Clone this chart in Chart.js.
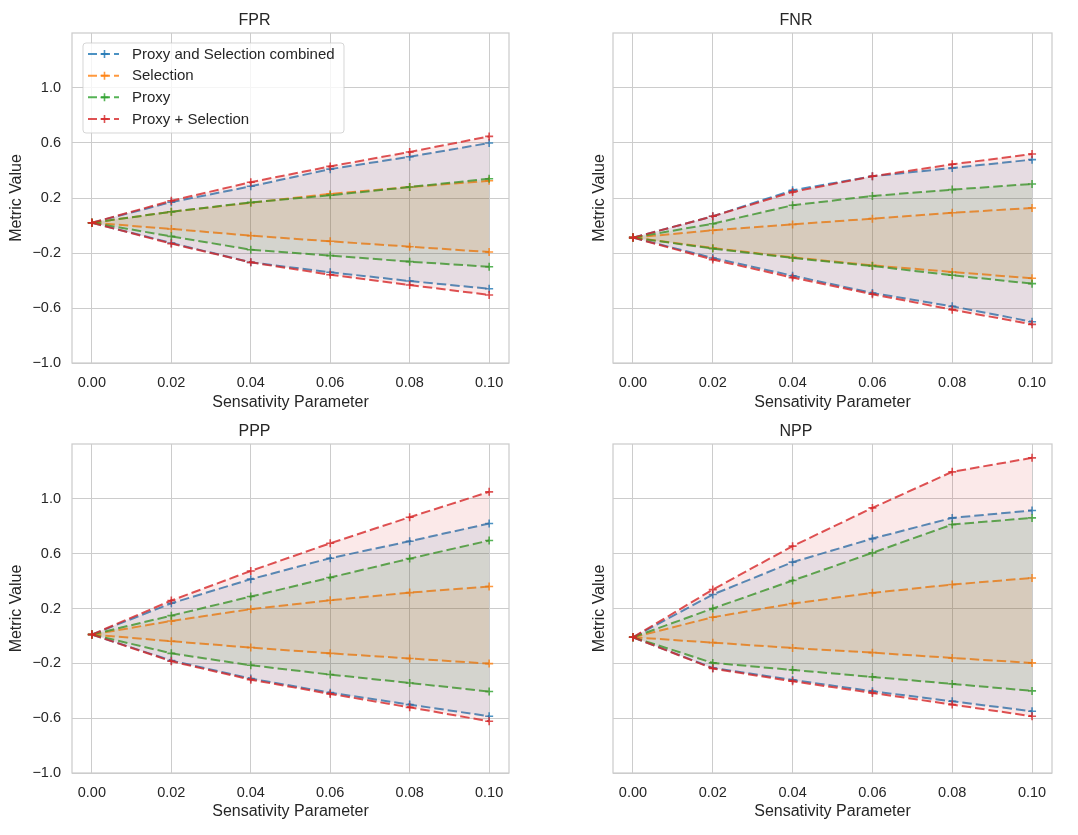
<!DOCTYPE html>
<html>
<head>
<meta charset="utf-8">
<script src="https://cdn.jsdelivr.net/npm/chart.js@4.4.1/dist/chart.umd.min.js"></script>
<style>
  body { margin: 0; background: #ffffff; }
  #fig { position: relative; width: 1078px; height: 835px; overflow: hidden; }
  .panel { position: absolute; }
</style>
</head>
<body>
<div id="fig">
  <div class="panel" style="left:0px;top:0px;width:540px;height:415px"><canvas id="c0"></canvas></div>
  <div class="panel" style="left:540px;top:0px;width:538px;height:415px"><canvas id="c1"></canvas></div>
  <div class="panel" style="left:0px;top:415px;width:540px;height:420px"><canvas id="c2"></canvas></div>
  <div class="panel" style="left:540px;top:415px;width:538px;height:420px"><canvas id="c3"></canvas></div>
</div>
<script>
// x values and tick labels
const sensParams = [0, 0.02, 0.04, 0.06, 0.08, 0.10];
const xTickLabels = ['0.00', '0.02', '0.04', '0.06', '0.08', '0.10'];
const yTickValues = [-1.0, -0.6, -0.2, 0.2, 0.6, 1.0];
const yTickLabels = ['\u22121.0', '\u22120.6', '\u22120.2', '0.2', '0.6', '1.0'];

const seriesNames = ['Proxy and Selection combined', 'Selection', 'Proxy', 'Proxy + Selection'];
const seriesRGB = ['31,119,180', '255,127,14', '44,160,44', '214,39,40'];
const metricNames = ['FPR', 'FNR', 'PPP', 'NPP'];

// bounds per series: combined, selection, proxy, proxy + selection
const fprUpper = [
  [0.02, 0.17, 0.285, 0.41, 0.50, 0.60],
  [0.02, 0.10, 0.165, 0.23, 0.28, 0.325],
  [0.02, 0.10, 0.168, 0.22, 0.28, 0.34],
  [0.02, 0.18, 0.315, 0.43, 0.535, 0.648]
];
const fprLower = [
  [0.02, -0.127, -0.268, -0.34, -0.404, -0.46],
  [0.02, -0.025, -0.074, -0.115, -0.154, -0.193],
  [0.02, -0.079, -0.176, -0.219, -0.263, -0.30],
  [0.02, -0.132, -0.268, -0.358, -0.433, -0.505]
];
const fnrUpper = [
  [-0.088, 0.067, 0.256, 0.358, 0.418, 0.479],
  [-0.088, -0.035, 0.008, 0.05, 0.093, 0.127],
  [-0.088, 0.013, 0.147, 0.215, 0.261, 0.302],
  [-0.088, 0.067, 0.244, 0.358, 0.445, 0.52]
];
const fnrLower = [
  [-0.088, -0.236, -0.365, -0.491, -0.588, -0.70],
  [-0.088, -0.164, -0.232, -0.29, -0.338, -0.384],
  [-0.088, -0.168, -0.236, -0.295, -0.362, -0.423],
  [-0.088, -0.248, -0.379, -0.50, -0.612, -0.719]
];
const pppUpper = [
  [0.01, 0.238, 0.414, 0.567, 0.691, 0.82],
  [0.01, 0.109, 0.195, 0.26, 0.316, 0.36],
  [0.01, 0.148, 0.287, 0.426, 0.564, 0.696],
  [0.01, 0.258, 0.474, 0.676, 0.866, 1.051]
];
const pppLower = [
  [0.01, -0.18, -0.311, -0.414, -0.501, -0.586],
  [0.01, -0.039, -0.085, -0.127, -0.165, -0.202],
  [0.01, -0.127, -0.214, -0.282, -0.343, -0.406],
  [0.01, -0.185, -0.319, -0.423, -0.521, -0.623]
];
const nppUpper = [
  [-0.01, 0.302, 0.538, 0.71, 0.861, 0.915],
  [-0.01, 0.136, 0.236, 0.314, 0.375, 0.423],
  [-0.01, 0.20, 0.404, 0.606, 0.813, 0.861],
  [-0.01, 0.338, 0.655, 0.934, 1.197, 1.299]
];
const nppLower = [
  [-0.01, -0.234, -0.321, -0.404, -0.477, -0.55],
  [-0.01, -0.049, -0.088, -0.122, -0.161, -0.197],
  [-0.01, -0.197, -0.248, -0.299, -0.350, -0.401],
  [-0.01, -0.238, -0.331, -0.416, -0.501, -0.586]
];

const FONT = '"Liberation Sans", Arial, sans-serif';
const TEXT = '#262626';
const GRID = '#cccccc';

// frame around the plot area + legend inside the first panel
const framePlugin = {
  id: 'frameAndLegend',
  afterDraw(chart, args, opts) {
    const { ctx, chartArea: a } = chart;
    ctx.save();
    ctx.strokeStyle = GRID;
    ctx.lineWidth = 1.25;
    ctx.strokeRect(a.left, a.top, a.right - a.left, a.bottom - a.top);

    if (opts.legend) {
      const x0 = a.left + 11, y0 = a.top + 10, w = 261, h = 90;
      ctx.beginPath();
      ctx.roundRect(x0, y0, w, h, 3);
      ctx.fillStyle = 'rgba(255,255,255,0.8)';
      ctx.fill();
      ctx.strokeStyle = 'rgba(204,204,204,0.8)';
      ctx.lineWidth = 1;
      ctx.stroke();

      ctx.font = '15px ' + FONT;
      ctx.textBaseline = 'middle';
      ctx.textAlign = 'left';
      seriesNames.forEach((name, k) => {
        const cy = y0 + 11 + k * 21.67;
        const col = 'rgba(' + seriesRGB[k] + ',0.8)';
        ctx.strokeStyle = col;
        ctx.lineWidth = 2;
        ctx.setLineDash([9, 4]);
        ctx.beginPath();
        ctx.moveTo(x0 + 5, cy);
        ctx.lineTo(x0 + 36, cy);
        ctx.stroke();
        ctx.setLineDash([]);
        ctx.lineWidth = 1.6;
        ctx.beginPath();
        ctx.moveTo(x0 + 21.5 - 4, cy);
        ctx.lineTo(x0 + 21.5 + 4, cy);
        ctx.moveTo(x0 + 21.5, cy - 4);
        ctx.lineTo(x0 + 21.5, cy + 4);
        ctx.stroke();
        ctx.fillStyle = TEXT;
        ctx.fillText(name, a.left + 60, cy + 0.5);
      });
    }
    ctx.restore();
  }
};

function buildDatasets(upper, lower) {
  const out = [];
  seriesNames.forEach((name, k) => {
    const line = 'rgba(' + seriesRGB[k] + ',0.8)';
    const common = {
      borderColor: line,
      borderWidth: 2,
      borderDash: [9.5, 4],
      pointStyle: 'cross',
      pointRadius: 4,
      pointBorderWidth: 1.6,
      pointBorderColor: line,
      pointBackgroundColor: line,
      tension: 0,
      order: 3 - k
    };
    out.push(Object.assign({
      label: name,
      data: sensParams.map((x, i) => ({ x: x, y: upper[k][i] })),
      backgroundColor: 'rgba(' + seriesRGB[k] + ',0.1)',
      fill: '+1'
    }, common));
    out.push(Object.assign({
      label: name + ' (lower)',
      data: sensParams.map((x, i) => ({ x: x, y: lower[k][i] })),
      backgroundColor: 'rgba(0,0,0,0)',
      fill: false
    }, common));
  });
  return out;
}

const panels = [
  { id: 'c0', title: metricNames[0], upper: fprUpper, lower: fprLower, col: 0, row: 0 },
  { id: 'c1', title: metricNames[1], upper: fnrUpper, lower: fnrLower, col: 1, row: 0 },
  { id: 'c2', title: metricNames[2], upper: pppUpper, lower: pppLower, col: 0, row: 1 },
  { id: 'c3', title: metricNames[3], upper: nppUpper, lower: nppLower, col: 1, row: 1 }
];

panels.forEach(p => {
  const ctx = document.getElementById(p.id).getContext('2d');
  const yAxisWidth = p.col === 0 ? 72 : 73;
  const xAxisHeight = p.row === 0 ? 52 : 62;

  new Chart(ctx, {
    type: 'line',
    data: { datasets: buildDatasets(p.upper, p.lower) },
    options: {
      responsive: true,
      maintainAspectRatio: false,
      animation: false,
      events: [],
      layout: { padding: { left: 0, right: p.col === 0 ? 31 : 26, top: 0, bottom: 0 } },
      plugins: {
        legend: { display: false },
        tooltip: { enabled: false },
        title: {
          display: true,
          text: p.title,
          color: TEXT,
          font: { family: FONT, size: 16, weight: 'normal', lineHeight: 1.2 },
          padding: p.row === 0 ? { top: 11, bottom: 2.8 } : { top: 6.9, bottom: 2.9 }
        },
        frameAndLegend: { legend: p.col === 0 && p.row === 0 }
      },
      scales: {
        x: {
          type: 'linear',
          min: -0.005,
          max: 0.105,
          afterBuildTicks: s => { s.ticks = sensParams.map(v => ({ value: v })); },
          afterFit: s => { s.height = xAxisHeight; },
          ticks: {
            color: TEXT,
            font: { family: FONT, size: 14.5 },
            padding: 11,
            maxRotation: 0,
            callback: (v, i) => xTickLabels[i]
          },
          grid: { color: GRID, lineWidth: 1, drawTicks: false },
          border: { display: false },
          title: {
            display: true,
            text: 'Sensativity Parameter',
            color: TEXT,
            font: { family: FONT, size: 16, lineHeight: 1.2 },
            padding: { top: 0, bottom: p.row === 0 ? 3 : 14 }
          }
        },
        y: {
          type: 'linear',
          min: -1.0,
          max: 1.4,
          afterBuildTicks: s => { s.ticks = yTickValues.map(v => ({ value: v })); },
          afterFit: s => { s.width = yAxisWidth; },
          ticks: {
            display: p.col === 0,
            color: TEXT,
            font: { family: FONT, size: 14.5 },
            padding: 11,
            callback: (v, i) => yTickLabels[i]
          },
          grid: { color: GRID, lineWidth: 1, drawTicks: false },
          border: { display: false },
          title: {
            display: true,
            text: 'Metric Value',
            color: TEXT,
            font: { family: FONT, size: 16, lineHeight: 1.2 },
            padding: { top: p.col === 0 ? 6.7 : 49.6, bottom: 0 }
          }
        }
      }
    },
    plugins: [framePlugin]
  });
});
</script>
</body>
</html>
